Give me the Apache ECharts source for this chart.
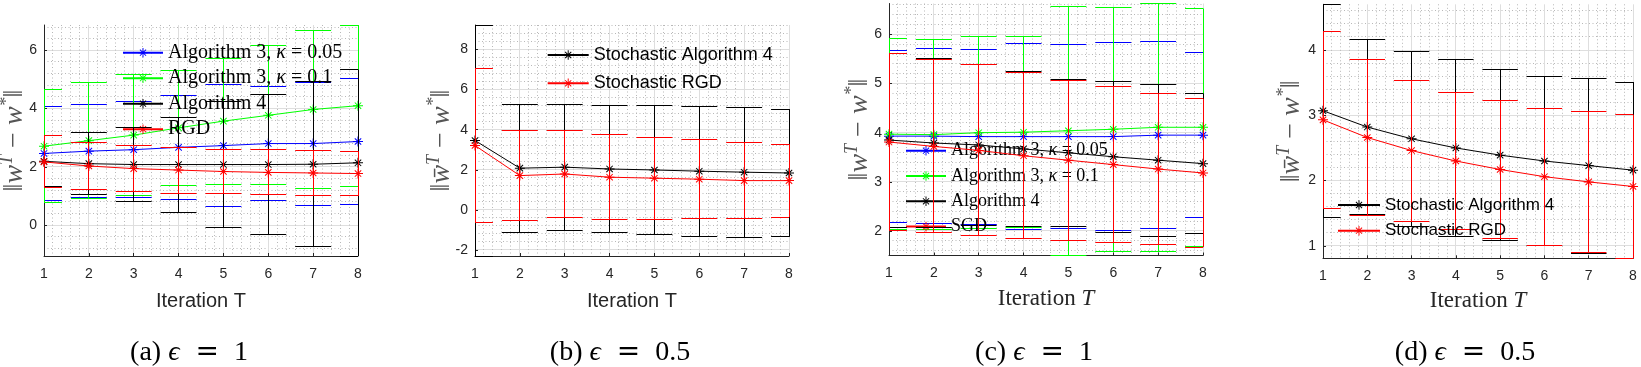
<!DOCTYPE html>
<html><head><meta charset="utf-8">
<script src="https://cdn.jsdelivr.net/npm/echarts@6/dist/echarts.min.js"></script>
<style>html,body{margin:0;padding:0;background:#fff}#c{width:1641px;height:367px}</style>
</head><body><div id="c"></div><script>
// ---------------- data ----------------
const iterations = [1, 2, 3, 4, 5, 6, 7, 8];
const xTicks = [1, 2, 3, 4, 5, 6, 7, 8];

// (a) epsilon = 1 : mean and error (half-length of error bar)
const a_alg3k005_mean = [2.46, 2.54, 2.59, 2.67, 2.73, 2.80, 2.80, 2.87];
const a_alg3k005_err  = [1.60, 1.60, 1.64, 1.79, 2.09, 1.95, 2.11, 2.16];
const a_alg3k01_mean  = [2.71, 2.90, 3.09, 3.34, 3.57, 3.77, 3.97, 4.10];
const a_alg3k01_err   = [1.94, 1.99, 2.08, 1.97, 2.16, 2.38, 2.70, 2.77];
const a_alg4_mean     = [2.19, 2.11, 2.08, 2.08, 2.08, 2.08, 2.09, 2.14];
const a_alg4_err      = [0.88, 1.07, 1.27, 1.63, 2.16, 2.39, 2.83, 3.20];
const a_rgd_mean      = [2.17, 2.03, 1.94, 1.89, 1.84, 1.81, 1.79, 1.77];
const a_rgd_err       = [0.89, 0.80, 0.79, 0.79, 0.77, 0.77, 0.77, 0.77];
const yTicks_a = [0, 2, 4, 6];

// (b) epsilon = 0.5
const b_salg4_mean = [3.46, 2.08, 2.13, 2.04, 1.99, 1.93, 1.88, 1.84];
const b_salg4_err  = [5.76, 3.19, 3.14, 3.18, 3.23, 3.24, 3.25, 3.19];
const b_srgd_mean  = [3.21, 1.71, 1.79, 1.63, 1.58, 1.53, 1.46, 1.46];
const b_srgd_err   = [3.85, 2.24, 2.19, 2.12, 2.04, 1.98, 1.88, 1.82];
const yTicks_b = [-2, 0, 2, 4, 6, 8];

// (c) epsilon = 1
const c_alg3k005_mean = [3.93, 3.93, 3.92, 3.92, 3.92, 3.92, 3.95, 3.95];
const c_alg3k005_err  = [1.75, 1.78, 1.78, 1.90, 1.88, 1.91, 1.90, 1.68];
const c_alg3k01_mean  = [3.97, 3.96, 4.00, 4.01, 4.04, 4.07, 4.11, 4.11];
const c_alg3k01_err   = [1.95, 1.94, 1.95, 1.94, 2.53, 2.48, 2.52, 2.42];
const c_alg4_mean     = [3.85, 3.79, 3.75, 3.67, 3.59, 3.51, 3.44, 3.37];
const c_alg4_err      = [1.77, 1.72, 1.63, 1.57, 1.50, 1.54, 1.55, 1.43];
const c_sgd_mean      = [3.81, 3.72, 3.64, 3.53, 3.44, 3.35, 3.26, 3.18];
const c_sgd_err       = [1.80, 1.76, 1.74, 1.69, 1.63, 1.59, 1.54, 1.51];
const yTicks_c = [2, 3, 4, 5, 6];

// (d) epsilon = 0.5
const d_salg4_mean = [3.07, 2.82, 2.64, 2.50, 2.39, 2.30, 2.23, 2.16];
const d_salg4_err  = [1.63, 1.34, 1.34, 1.36, 1.31, 1.30, 1.34, 1.35];
const d_srgd_mean  = [2.93, 2.66, 2.46, 2.30, 2.17, 2.06, 1.98, 1.91];
const d_srgd_err   = [1.36, 1.20, 1.08, 1.05, 1.05, 1.05, 1.08, 1.10];
const yTicks_d = [1, 2, 3, 4];

const N_A3_005 = 'Algorithm 3, κ = 0.05';
const N_A3_01 = 'Algorithm 3, κ = 0.1';
const N_A4 = 'Algorithm 4';
const N_RGD = 'RGD';
const N_SGD = 'SGD';
const N_SA4 = 'Stochastic Algorithm 4';
const N_SRGD = 'Stochastic RGD';
const captions = ['(a)', '(b)', '(c)', '(d)'];
const epsilons = ['1', '0.5', '1', '0.5'];

// ---------------- styling ----------------
const BLUE = '#0000ff', GREEN = '#00ff00', BLACK = '#000000', RED = '#ff0000';
const SERIF = 'Liberation Serif', SANS = 'Liberation Sans';
const AX = '#262626';
const STAR = 'path://M9,0H11V20H9Z M0,9H20V11H0Z M2.9,4.3L4.3,2.9L17.1,15.7L15.7,17.1Z M15.7,2.9L17.1,4.3L4.3,17.1L2.9,15.7Z';
const CAP = 0.4;

const panels = [
  { grid: {left: 44, top: 25, width: 314, height: 231}, yMin: -1.06, yMax: 6.87, yTicks: yTicks_a, minor: 0.4,
    bar: false, serifX: false, yNameX: 15, capX: 189,
    series: [
      {name: N_A3_005, color: BLUE, mean: a_alg3k005_mean, err: a_alg3k005_err},
      {name: N_A3_01, color: GREEN, mean: a_alg3k01_mean, err: a_alg3k01_err},
      {name: N_A4, color: BLACK, mean: a_alg4_mean, err: a_alg4_err},
      {name: N_RGD, color: RED, mean: a_rgd_mean, err: a_rgd_err}],
    legend: {left: 122, top: 42.7, itemWidth: 40, gap: 5.5, family: SERIF, size: 20} },
  { grid: {left: 475, top: 25, width: 314, height: 231}, yMin: -2.3, yMax: 9.22, yTicks: yTicks_b, minor: 0.4,
    bar: true, serifX: false, yNameX: 442, capX: 620,
    series: [
      {name: N_SA4, color: BLACK, mean: b_salg4_mean, err: b_salg4_err},
      {name: N_SRGD, color: RED, mean: b_srgd_mean, err: b_srgd_err}],
    legend: {left: 546.7, top: 45, itemWidth: 41, gap: 8.3, family: SANS, size: 18} },
  { grid: {left: 889, top: 3.5, width: 314, height: 252}, yMin: 1.5, yMax: 6.63, yTicks: yTicks_c, minor: 0.2,
    bar: false, serifX: true, yNameX: 860, capX: 1034,
    series: [
      {name: N_A3_005, color: BLUE, mean: c_alg3k005_mean, err: c_alg3k005_err},
      {name: N_A3_01, color: GREEN, mean: c_alg3k01_mean, err: c_alg3k01_err},
      {name: N_A4, color: BLACK, mean: c_alg4_mean, err: c_alg4_err},
      {name: N_SGD, color: RED, mean: c_sgd_mean, err: c_sgd_err}],
    legend: {left: 905, top: 140.7, itemWidth: 40, gap: 5.3, family: SERIF, size: 18} },
  { grid: {left: 1323, top: 4.3, width: 310, height: 254}, yMin: 0.81, yMax: 4.70, yTicks: yTicks_d, minor: 0.2,
    bar: true, serifX: true, yNameX: 1292, capX: 1465,
    series: [
      {name: N_SA4, color: BLACK, mean: d_salg4_mean, err: d_salg4_err},
      {name: N_SRGD, color: RED, mean: d_srgd_mean, err: d_srgd_err}],
    legend: {left: 1337, top: 195, itemWidth: 42, gap: 5.7, family: SANS, size: 17} }
];

function gridData(p) {
  const d = [];
  p.yTicks.forEach(v => d.push([xTicks[0], v, 0]));
  const k0 = Math.ceil(p.yMin / p.minor - 1e-9), k1 = Math.floor(p.yMax / p.minor + 1e-9);
  for (let k = k0; k <= k1; k++) {
    const v = +(k * p.minor).toFixed(6);
    if (!p.yTicks.some(t => Math.abs(t - v) < 1e-6)) d.push([xTicks[0], v, 1]);
  }
  xTicks.slice(1).forEach(v => d.push([v, p.yMin, 2]));
  for (let k = 1; k < (xTicks.length - 1) * 5; k++) {
    if (k % 5 !== 0) d.push([xTicks[0] + k * 0.2, p.yMin, 3]);
  }
  return d;
}
function gridRender(params, api) {
  const cs = params.coordSys;
  const kind = api.value(2);
  const pt = api.coord([api.value(0), api.value(1)]);
  let shape;
  if (kind < 2) { const y = Math.round(pt[1] - 0.5) + 0.5; shape = {x1: cs.x, y1: y, x2: cs.x + cs.width, y2: y}; }
  else { const x = Math.round(pt[0] - 0.5) + 0.5; shape = {x1: x, y1: cs.y, x2: x, y2: cs.y + cs.height}; }
  const style = (kind % 2 === 0) ? {stroke: '#dedede', lineWidth: 1} : {stroke: '#b8b8b8', lineWidth: 1, lineDash: [1, 2.5]};
  return {type: 'line', shape, style, silent: true};
}
function ebRender(params, api) {
  const cs = params.coordSys;
  const x = api.value(0), m = api.value(1), e = api.value(2);
  const color = api.visual('color');
  const L = cs.x, R = cs.x + cs.width, T = cs.y, B = cs.y + cs.height;
  const px = Math.round(api.coord([x, m])[0] - 0.5) + 0.5;
  const yHi = api.coord([x, m + e])[1], yLo = api.coord([x, m - e])[1];
  const xl = Math.max(L, api.coord([x - CAP, m])[0]), xr = Math.min(R, api.coord([x + CAP, m])[0]);
  const cl = v => Math.max(T, Math.min(B, v));
  const children = [{type: 'line', shape: {x1: px, y1: cl(yHi), x2: px, y2: cl(yLo)}, style: {stroke: color, lineWidth: 1}}];
  [yHi, yLo].forEach(yy => {
    if (yy >= T - 0.8 && yy <= B + 0.8) {
      const cy = Math.round(cl(yy) - 0.5) + 0.5;
      children.push({type: 'line', shape: {x1: xl, y1: cy, x2: xr, y2: cy}, style: {stroke: color, lineWidth: 1}});
    }
  });
  return {type: 'group', children};
}

const option = {animation: false, backgroundColor: '#fff', grid: [], xAxis: [], yAxis: [], legend: [], series: [], graphic: []};

panels.forEach((p, i) => {
  option.grid.push(Object.assign({containLabel: false}, p.grid));
  option.xAxis.push({
    gridIndex: i, type: 'value', min: 1, max: 8, interval: 1, z: 1,
    axisLine: {show: true, onZero: false, lineStyle: {color: AX, width: 1}},
    axisTick: {show: true, inside: true, length: 3, lineStyle: {color: AX}},
    axisLabel: {margin: 11, color: AX, fontSize: 14, fontFamily: SANS},
    splitLine: {show: false}
  });
  option.yAxis.push({
    gridIndex: i, type: 'value', min: p.yMin, max: p.yMax, z: 1,
    axisLine: {show: true, onZero: false, lineStyle: {color: AX, width: 1}},
    axisTick: {show: true, inside: true, length: 3, customValues: p.yTicks, lineStyle: {color: AX}},
    axisLabel: {margin: 7, color: AX, fontSize: 14, fontFamily: SANS, customValues: p.yTicks},
    splitLine: {show: false}
  });
  option.series.push({type: 'custom', name: 'grid' + i, xAxisIndex: i, yAxisIndex: i, z: 0, silent: true,
    data: gridData(p), renderItem: gridRender});
  p.series.forEach((s, g) => {
    option.series.push({type: 'custom', name: 'eb' + i + '_' + g, xAxisIndex: i, yAxisIndex: i, z: 2 + g, silent: true,
      itemStyle: {color: s.color}, data: iterations.map((x, k) => [x, s.mean[k], s.err[k]]), renderItem: ebRender});
    option.series.push({type: 'line', name: s.name, xAxisIndex: i, yAxisIndex: i, z: 2 + g, silent: true,
      data: iterations.map((x, k) => [x, s.mean[k]]), symbol: STAR, symbolSize: 10, showAllSymbol: true,
      lineStyle: {color: s.color, width: 1}, itemStyle: {color: s.color}, emphasis: {disabled: true}});
  });
  const lg = p.legend;
  option.legend.push({
    orient: 'vertical', left: lg.left, top: lg.top, padding: 0, itemWidth: lg.itemWidth, itemHeight: 12,
    itemGap: lg.gap, selectedMode: false, data: p.series.map(s => s.name),
    textStyle: {fontFamily: lg.family, fontSize: lg.size, color: '#000', lineHeight: 20,
      rich: {i: {fontFamily: SERIF, fontStyle: 'italic', fontSize: lg.size, color: '#000', lineHeight: 20}}},
    formatter: name => name.replace('κ', '{i|κ}')
  });
  // axis names and caption
  const cx = p.grid.left + p.grid.width / 2;
  const cy = p.grid.top + p.grid.height / 2;
  const bottom = p.grid.top + p.grid.height;
  option.graphic.push(p.serifX ? {
    type: 'text', x: cx, y: bottom + 43, silent: true,
    style: {text: '{n|Iteration} {i|T}', fill: '#262626', fontSize: 23, fontFamily: SERIF,
      align: 'center', verticalAlign: 'middle', textAlign: 'center', textVerticalAlign: 'middle',
      rich: {n: {fontSize: 23, fontFamily: SERIF, fill: '#262626'}, i: {fontSize: 23, fontFamily: SERIF, fontStyle: 'italic', fill: '#262626'}}}
  } : {
    type: 'text', x: cx, y: bottom + 45.5, silent: true,
    style: {text: 'Iteration T', fill: '#262626', fontSize: 20, fontFamily: SANS,
      align: 'center', verticalAlign: 'middle', textAlign: 'center', textVerticalAlign: 'middle'}
  });
  const wsym = p.bar ? 'w\u0304' : 'w';
  const yRich = {
    i: {fontSize: 28, fontFamily: SERIF, fontStyle: 'italic', fill: '#555'},
    n: {fontSize: 28, fontFamily: SERIF, fill: '#555'},
    s: {fontSize: 18, fontFamily: SERIF, fontStyle: 'italic', fill: '#555', padding: [0, 0, 16, 0]}
  };
  option.graphic.push({
    type: 'text', x: p.yNameX, y: cy, rotation: Math.PI / 2, silent: true,
    style: {text: '{n|‖}{i|' + wsym + '}{s|T}{n| − }{i|w}{s|*}{n|‖}', fill: '#555', fontSize: 28, fontFamily: SERIF,
      align: 'center', verticalAlign: 'middle', textAlign: 'center', textVerticalAlign: 'middle', rich: yRich}
  });
  option.graphic.push({
    type: 'text', x: p.capX, y: 353, silent: true,
    style: {text: '{n|' + captions[i] + '}{e|ϵ}{q|=}{n|' + epsilons[i] + '}', fill: '#000', fontSize: 28, fontFamily: SERIF,
      align: 'center', verticalAlign: 'middle', textAlign: 'center', textVerticalAlign: 'middle',
      rich: {n: {fontSize: 28, fontFamily: SERIF, fill: '#000'},
             e: {fontSize: 28, fontFamily: SERIF, fontStyle: 'italic', fill: '#000', padding: [0, 0, 0, 7]},
             q: {fontSize: 28, fontFamily: 'DejaVu Serif', fill: '#000', padding: [0, 15, 0, 16]}}}
  });
});

const chart = echarts.init(document.getElementById('c'), null, {renderer: 'canvas'});
chart.setOption(option);
</script></body></html>
